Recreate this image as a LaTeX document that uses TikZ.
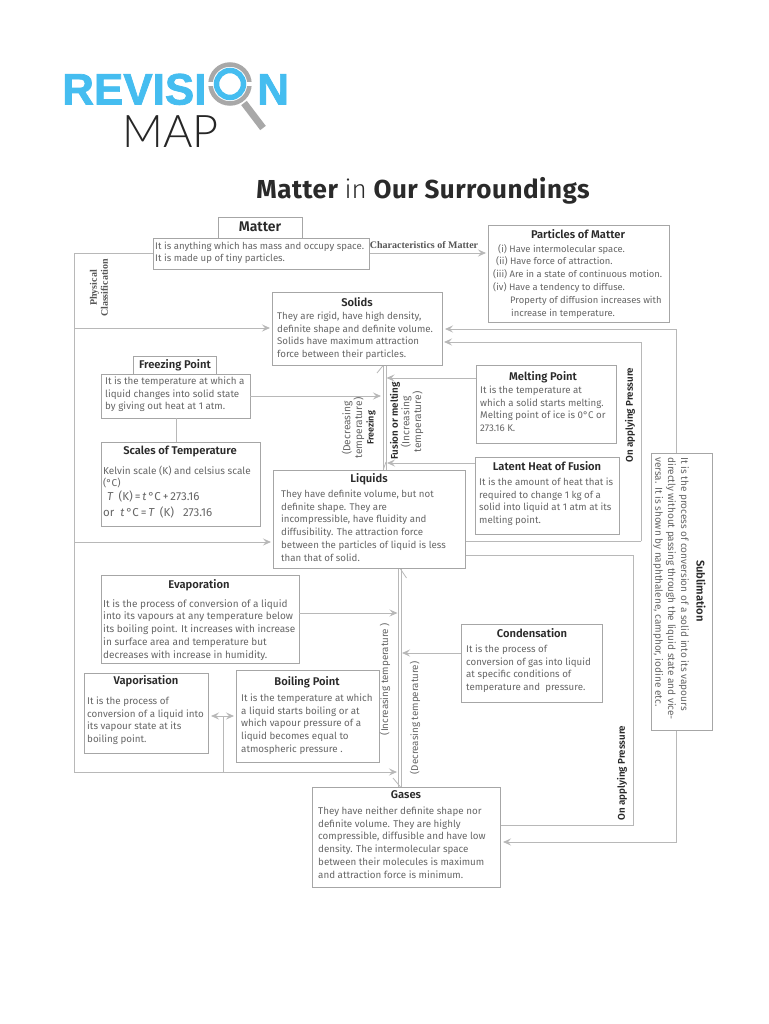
\documentclass[tikz,border=0pt]{standalone}
\usepackage{fontspec}
\usetikzlibrary{arrows.meta}
\setmainfont{Fira Sans}
\newfontfamily\bodyf{Fira Sans}
\newfontfamily\headf{Fira Sans SemiBold}
\newfontfamily\titleb[LetterSpace=2]{Fira Sans Bold}
\newfontfamily\titlel{Fira Sans Light}
\newfontfamily\logof[FakeBold=1.6]{Liberation Sans Bold}
\newfontfamily\mapf{Lato Light}
\newfontfamily\serf{Liberation Serif}
\definecolor{ln}{HTML}{B8B8B8}
\definecolor{bxc}{HTML}{A6A6A6}
\definecolor{bt}{HTML}{666666}
\definecolor{hd}{HTML}{2A2A2A}
\definecolor{blu}{HTML}{45BDF0}
\definecolor{gry}{HTML}{A8A8A8}
\tikzset{
 bxs/.style={draw=bxc,line width=0.9pt,fill=white,inner sep=0pt,outer sep=0pt},
 head/.style={font=\headf\fontsize{11.2}{13}\selectfont,text=hd,inner sep=0pt},
 body/.style={font=\bodyf\fontsize{#1}{12.8}\selectfont,text=bt,inner sep=0pt,anchor=north west,align=left},
 body/.default=9.7,
 rl/.style={rotate=90,font=\bodyf\fontsize{#1}{10.5}\selectfont,text=bt,inner sep=0pt,align=center},
 rb/.style={rotate=90,font=\headf\fontsize{9.8}{10}\selectfont,text=hd,inner sep=0pt,align=center},
 rs/.style={rotate=90,font=\serf\bfseries\fontsize{10}{11}\selectfont,text=hd!80,inner sep=0pt,align=center},
 conn/.style={draw=ln,line width=1pt},
 arr/.style={conn,-{Stealth[length=8pt,width=7pt,inset=3pt,color=ln]}},
 barb/.style={draw=ln,line width=0.8pt},
}
\newcommand\bx[5]{\node[bxs,minimum width={(#4-#2)*1pt},minimum height={(#5-#3)*1pt}] (#1) at ({(#2+#4)/2},{(#3+#5)/2}) {};}
\begin{document}
\begin{tikzpicture}[x=1pt,y=-1pt]
\useasboundingbox (0,0) rectangle (768,1024);
\fill[white] (0,0) rectangle (768,1024);
% logo
\node[inner sep=0pt,anchor=base west,font=\logof\fontsize{44}{44}\selectfont,text=blu] (rev) at (62,104.5) {REVISI};
\node[inner sep=0pt,anchor=base west,font=\logof\fontsize{44}{44}\selectfont,text=blu] (nn) at (257,104.5) {N};
\coordinate (oc) at (230,84);
\coordinate (hs) at (244,103);
\coordinate (he) at (263,128);
\draw[gry,line width=7pt] (hs) -- (he);
\draw[gry,line width=4.5pt] (oc) circle (19.5);
\draw[blu,line width=5.5pt] (oc) circle (13.5);
\fill[white] (206,82) rectangle (213,86);
\fill[white] (247,82) rectangle (254,86);
\node[inner sep=0pt,anchor=base west,font=\mapf\fontsize{45}{46}\selectfont,text=black!85] (map) at (122,148) {MAP};
% title
\node[inner sep=0pt,font=\fontsize{26}{30}\selectfont,text=hd] (title) at (423,191) {\titleb Matter\ {\titlel in}\ Our Surroundings};
% connectors behind boxes
\coordinate (fl) at (74,253);
\coordinate (fb) at (74,772);
\draw[conn] (153,253) -- (fl) -- (fb);
\draw[arr] (fl |- 0,328) -- (270,328);
\draw[arr] (fl |- 0,542) -- (271,542);
\draw[arr] (fb) -- (397,772);
\draw[arr] (369,253) -- (486,253);
\node[inner sep=0pt,font=\serf\bfseries\fontsize{10}{10}\selectfont,text=hd!80] (char) at (424,245) {Characteristics of Matter};
% central bands
\coordinate (ua) at (383.5,365);
\coordinate (ub) at (383.5,470);
\coordinate (la) at (398.5,568);
\coordinate (lb) at (398.5,787);
\draw[conn] (ua) -- (ub);
\draw[conn] ([xshift=2.5pt]ua) -- ([xshift=2.5pt]ub);
\draw[conn] (la) -- (lb);
\draw[conn] ([xshift=2.5pt]la) -- ([xshift=2.5pt]lb);
\draw[barb] (ua) -- (377,373);
\draw[barb] (386,462) -- (383.5,469);
\draw[barb] (400.5,569) -- (406.5,578);
\draw[barb] (400.5,787) -- (393,778);
% right frames
\coordinate (r1) at (676,329);
\coordinate (r2) at (641,342);
\coordinate (r3) at (641,541);
\coordinate (r4) at (633,555);
\coordinate (r5) at (633,825);
\coordinate (r6) at (676,842);
\draw[arr] (r1 |- 0,453) -- (r1) -- (445,329);
\draw[arr] (r3) -- (r2) -- (444,342);
\draw[conn] (r3) -- (465,541);
\draw[conn] (465,555) -- (r4) -- (r5) -- (500,825);
\draw[arr] (r6 |- 0,730) -- (r6) -- (503,842);
% boxes
\bx{matterh}{218}{217}{302}{238}
\bx{matterb}{153}{238}{369}{269}
\bx{part}{488}{225}{669}{322}
\bx{solids}{272}{292}{442}{365}
\bx{freezeh}{133}{356}{216}{374}
\bx{freezeb}{101}{374}{250}{418}
\bx{scales}{101}{442}{260}{526}
\bx{liquids}{273}{470}{465}{568}
\bx{melt}{476}{365}{616}{443}
\bx{latent}{475}{457}{619}{534}
\bx{evap}{101}{575}{299}{663}
\bx{vapor}{84}{673}{208}{753}
\bx{boil}{236}{670}{379}{762}
\bx{cond}{461}{624}{602}{702}
\bx{gases}{312}{787}{500}{887}
\bx{subl}{651}{453}{712}{730}
% box connectors
\draw[conn] (freezeb.south -| 176,0) -- (scales.north -| 176,0);
\draw[arr] (freezeb.east |- 0,396) -- (381,396);
\draw[arr] (melt.west |- 0,378) -- (386.5,378);
\draw[arr] (latent.west |- 0,463) -- (387,463);
\draw[arr] (evap.east |- 0,613) -- (397.5,613);
\draw[arr] (cond.west |- 0,653) -- (402,653);
\coordinate (j) at (223,716);
\draw[conn] (j) -- (j |- fb);
\draw[conn,{Stealth[length=8pt,width=7pt,inset=3pt,color=ln]}-{Stealth[length=8pt,width=7pt,inset=3pt,color=ln]}] (vapor.east |- j) ++(3,0) -- ([xshift=-2pt]boil.west |- j);
% texts
\node[head,font=\headf\fontsize{14}{15}\selectfont] (t1) at (260,227) {Matter};
\node[body=9.6] (b1) at (155,241.5) {It is anything which has mass and occupy space.\\It is made up of tiny particles.};
\node[head] (t2) at (578,234) {Particles of Matter};
\node[body=9.4] (b2) at (493,244) {\hspace*{5pt}(i) Have intermolecular space.\\\hspace*{3pt}(ii) Have force of attraction.\\(iii) Are in a state of continuous motion.\\(iv) Have a tendency to diffuse.\\\hspace*{17pt}Property of diffusion increases with\\\hspace*{18pt}increase in temperature.};
\node[head] (t3) at (357,302) {Solids};
\node[body] (b3) at (277,311.5) {They are rigid, have high density,\\definite shape and definite volume.\\Solids have maximum attraction\\force between their particles.};
\node[head] (t4) at (175,365) {Freezing Point};
\node[body=9.8] (b4) at (105,376.5) {It is the temperature at which a\\liquid changes into solid state\\by giving out heat at 1 atm.};
\node[head] (t5) at (180,451) {Scales of Temperature};
\node[body=10] (b5) at (103,465.5) {Kelvin scale (K) and celsius scale\\(°C)};
\node[body=11.5] (b5a) at (107,491) {\textit{T}\, (K)\,=\,\textit{t}\,°C\,+\,273.16};
\node[body=11.5] (b5b) at (103,506.5) {or\ \ \textit{t}\,°C\,=\,\textit{T}\, (K)\hspace{9pt}273.16};
\node[head] (t6) at (369,479) {Liquids};
\node[body] (b6) at (281,489.5) {They have definite volume, but not\\definite shape. They are\\incompressible, have fluidity and\\diffusibility. The attraction force\\between the particles of liquid is less\\than that of solid.};
\node[head] (t7) at (543,377) {Melting Point};
\node[body] (b7) at (480,385.5) {It is the temperature at\\which a solid starts melting.\\Melting point of ice is 0°C or\\273.16 K.};
\node[head] (t8) at (547,466) {Latent Heat of Fusion};
\node[body] (b8) at (479,477.5) {It is the amount of heat that is\\required to change 1 kg of a\\solid into liquid at 1 atm at its\\melting point.};
\node[head] (t9) at (199,585) {Evaporation};
\node[body=10] (b9) at (103,599) {It is the process of conversion of a liquid\\into its vapours at any temperature below\\its boiling point. It increases with increase\\in surface area and temperature but\\decreases with increase in humidity.};
\node[head] (t10) at (146,681) {Vaporisation};
\node[body=9.8] (b10) at (87,696.5) {It is the process of\\conversion of a liquid into\\its vapour state at its\\boiling point.};
\node[head] (t11) at (307,682) {Boiling Point};
\node[body=9.8] (b11) at (241,693.5) {It is the temperature at which\\a liquid starts boiling or at\\which vapour pressure of a\\liquid becomes equal to\\atmospheric pressure .};
\node[head] (t12) at (532,633) {Condensation};
\node[body] (b12) at (466,644.5) {It is the process of\\conversion of gas into liquid\\at specific conditions of\\temperature and\ \ pressure.};
\node[head] (t13) at (406,795) {Gases};
\node[body=9.8] (b13) at (318,806.5) {They have neither definite shape nor\\definite volume. They are highly\\compressible, diffusible and have low\\density. The intermolecular space\\between their molecules is maximum\\and attraction force is minimum.};
\node[head,rotate=-90] (t14) at (701,591) {Sublimation};
\node[body=10,rotate=-90] (b14) at (689,457) {It is the process of conversion of a solid into its vapours\\directly without passing through the liquid state and vice-\\versa. It is shown by naphthalene, camphor, iodine etc.};
% rotated labels
\node[rs] (pc) at (99,288) {Physical\\Classification};
\node[rl=10.2] (r1a) at (353,428) {(Decreasing\\temperature)};
\node[rb,font=\headf\fontsize{9}{10}\selectfont] (r1b) at (371,428) {Freezing};
\node[rb] (r2b) at (395,421) {Fusion or melting};
\node[rl=10.2] (r2a) at (412,422) {(Increasing\\temperature)};
\node[rl=9.8] (r3a) at (385,679) {(Increasing temperature )};
\node[rl=9.8] (r4a) at (415,718) {(Decreasing temperature)};
\node[rb] (r5a) at (630,415) {On applying Pressure};
\node[rb] (r6a) at (622,773) {On applying Pressure};
\end{tikzpicture}
\end{document}
